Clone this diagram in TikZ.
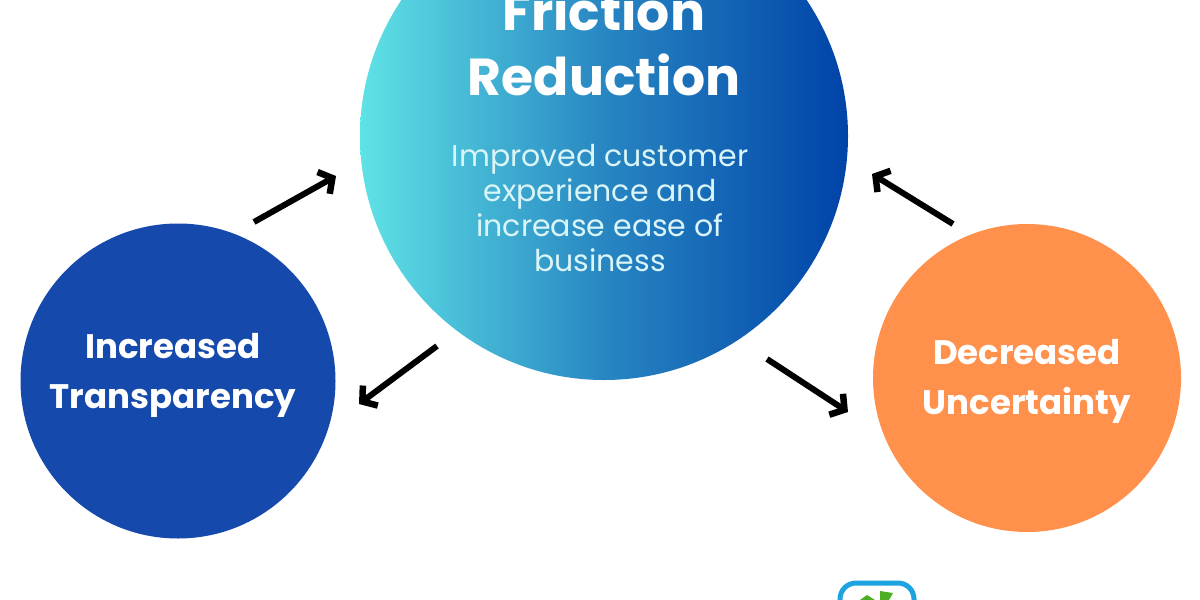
\documentclass[tikz,border=0pt]{standalone}
\usepackage{fontspec}
\setmainfont{Poppins}
\usetikzlibrary{arrows.meta}
\definecolor{bluedark}{HTML}{1549AB}
\definecolor{orangesoft}{HTML}{FF914D}
\definecolor{cyanlight}{HTML}{5FE3E6}
\definecolor{bluedeep}{HTML}{0043A8}
\definecolor{bodytext}{HTML}{D9F5F8}
\definecolor{logoblue}{HTML}{1CA3E0}
\definecolor{logogreen}{HTML}{4CAF22}
\tikzset{
	bubble/.style={circle,inner sep=0pt},
	bigtitle/.style={text=white,font=\bfseries\fontsize{52}{65}\selectfont,align=center},
	subtitle/.style={text=white,font=\bfseries\fontsize{34}{50}\selectfont,align=center},
	bodytxt/.style={text=bodytext,font=\fontsize{30}{35.3}\selectfont,align=center},
	flow/.style={-{Straight Barb[length=10pt,width=25pt,line width=6.5pt]},line width=6pt,black}
}
\begin{document}
\begin{tikzpicture}[x=1pt,y=-1pt]
	\useasboundingbox (0,0) rectangle (1200,600);
	\clip (0,0) rectangle (1200,600);
	\fill[white] (0,0) rectangle (1200,600);
	% circles
	\node[bubble,minimum size=488pt,left color=cyanlight,right color=bluedeep,middle color=cyanlight!42!bluedeep] (friction) at (604,136) {};
	\node[bubble,minimum size=315pt,fill=bluedark] (transparency) at (178,381) {};
	\node[bubble,minimum size=308pt,fill=orangesoft] (uncertainty) at (1027,378) {};
	% texts
	\node[bigtitle] (frictiontxt) at (604,42) {Friction\\Reduction};
	\node[bodytxt] (bodytxtnode) at (600,208) {Improved customer\\experience and\\increase ease of\\business};
	\node[subtitle] (transparencytxt) at (173,375) {Increased\\Transparency};
	\node[subtitle] (uncertaintytxt) at (1027,381) {Decreased\\Uncertainty};
	% arrows
	\coordinate (a1) at (254,222);
	\coordinate (a2) at (336,176);
	\coordinate (b1) at (437,346);
	\coordinate (b2) at (359,404);
	\coordinate (c1) at (767,359);
	\coordinate (c2) at (848,412);
	\coordinate (d1) at (953,224);
	\coordinate (d2) at (872,174);
	\draw[flow] (a1)--(a2);
	\draw[flow] (b1)--(b2);
	\draw[flow] (c1)--(c2);
	\draw[flow] (d1)--(d2);
	% logo at the bottom
	\draw[logoblue,line width=5pt,rounded corners=16pt] (840,640) rectangle (914,583);
	\fill[logogreen] (860,600)--(867,595)--(875,600)--cycle;
	\fill[logogreen] (880,600)--(880,591)--(893,593)--(889,600)--cycle;
\end{tikzpicture}
\end{document}
